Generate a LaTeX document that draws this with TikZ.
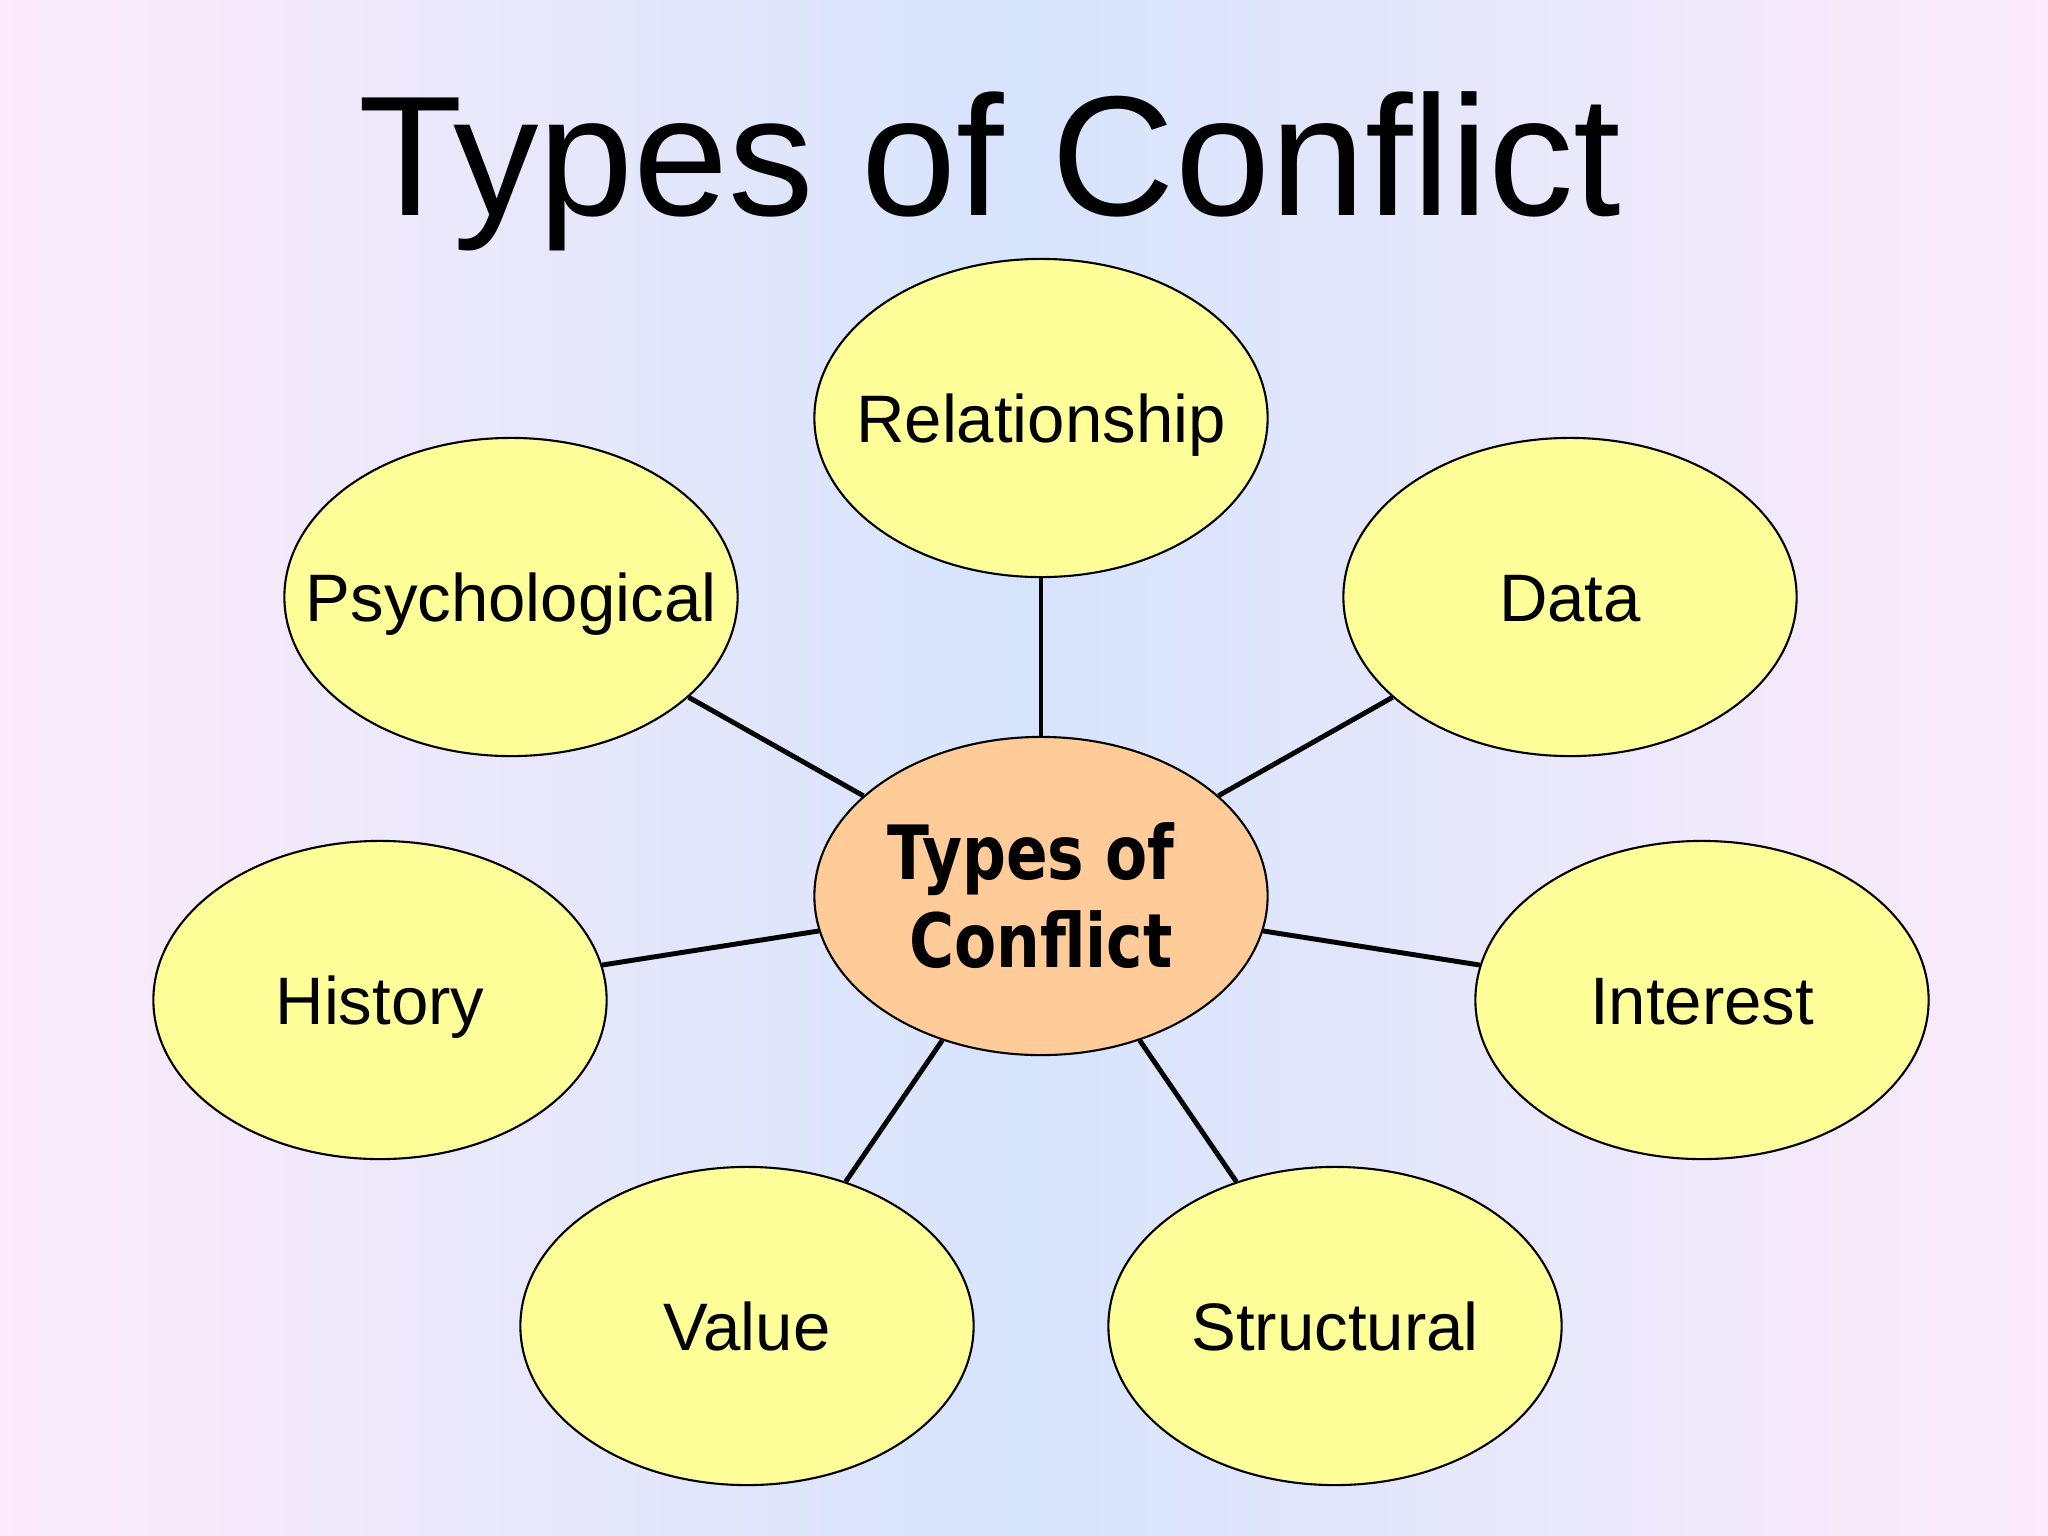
\documentclass[tikz,border=0pt]{standalone}
\usepackage{fontspec}
\setmainfont{Liberation Sans}
\newfontfamily\cfont[FakeStretch=0.82]{DejaVu Sans}
\usetikzlibrary{shapes.geometric}
\definecolor{bgpink}{RGB}{252,235,250}
\definecolor{bgblue}{RGB}{214,228,252}
\definecolor{leaf}{RGB}{255,255,153}
\definecolor{hubc}{RGB}{255,204,153}
\newcommand\lbl[1]{\makebox[0pt][c]{#1}}
\begin{document}
\begin{tikzpicture}[x=0.01cm,y=-0.01cm,
  bubble/.style={ellipse, draw=black, line width=0.6pt, minimum width=4.53cm, minimum height=3.18cm, inner sep=0pt},
  leafnode/.style={bubble, fill=leaf, font=\fontsize{19.1pt}{23pt}\selectfont, text height=13.7pt, text depth=0pt},
  hubnode/.style={bubble, fill=hubc, align=center, font=\cfont\bfseries\fontsize{21.3pt}{25pt}\selectfont},
  conn/.style={line width=1.4pt, black}]
\useasboundingbox (0,0) rectangle (2048,1536);
\shade[left color=bgpink, right color=bgpink, middle color=bgblue] (0,0) rectangle (2048,1536);
\node[font=\fontsize{48.6pt}{58pt}\selectfont, anchor=base, inner sep=0pt] (title) at (990,215) {Types of Conflict};
\node[hubnode] (hub) at (1041,896) {Types of\kern5.7pt\\Conflict};
\node[leafnode] (rel) at (1041,418) {\lbl{Relationship}};
\node[leafnode] (psy) at (511,597) {\lbl{Psychological}};
\node[leafnode] (dat) at (1570,597) {\lbl{Data}};
\node[leafnode] (his) at (380,1000) {\lbl{History}};
\node[leafnode] (int) at (1702,1000) {\lbl{Interest}};
\node[leafnode] (val) at (747,1326) {\lbl{Value}};
\node[leafnode] (str) at (1335,1326) {\lbl{Structural}};
\foreach \t in {rel,psy,dat,his,int,val,str} \draw[conn] (hub) -- (\t);
\end{tikzpicture}
\end{document}
